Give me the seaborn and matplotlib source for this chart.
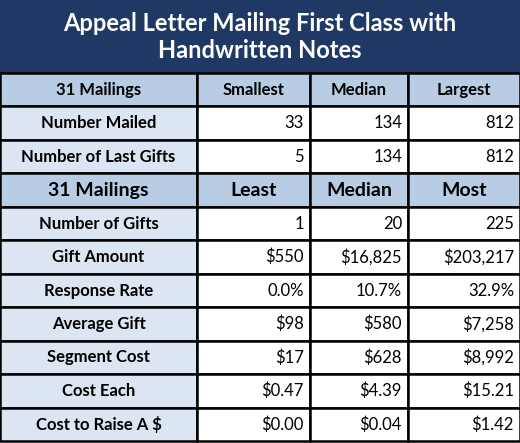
import matplotlib
matplotlib.use("Agg")
import matplotlib.pyplot as plt
import seaborn as sns
from matplotlib.patches import Rectangle

sns.set_style("white")
plt.rcParams['font.family'] = ['Lato', 'DejaVu Sans']

title = "Appeal Letter Mailing First Class with\nHandwritten Notes"
header1 = ["31 Mailings", "Smallest", "Median", "Largest"]
rows1_labels = ["Number Mailed", "Number of Last Gifts"]
rows1_values = [["33", "134", "812"], ["5", "134", "812"]]
header2 = ["31 Mailings", "Least", "Median", "Most"]
rows2_labels = ["Number of Gifts", "Gift Amount", "Response Rate", "Average Gift",
                "Segment Cost", "Cost Each", "Cost to Raise A $"]
rows2_values = [["1", "20", "225"], ["$550", "$16,825", "$203,217"],
                ["0.0%", "10.7%", "32.9%"], ["$98", "$580", "$7,258"],
                ["$17", "$628", "$8,992"], ["$0.47", "$4.39", "$15.21"],
                ["$0.00", "$0.04", "$1.42"]]

W, H = 520, 443
fig = plt.figure(figsize=(W/100, H/100), dpi=100)
ax = fig.add_axes([0, 0, 1, 1])
ax.set_xlim(0, W); ax.set_ylim(H, 0); ax.axis("off")

cols = [0, 197, 310, 408, 520]
navy, hdr, lab = "#1F3864", "#B8CCE4", "#DCE6F2"

ax.add_patch(Rectangle((0, 0), W, 73, color=navy))
ax.text(W/2, 37, title, color="white", ha="center", va="center",
        fontsize=17, fontweight="bold", linespacing=1.2)

rows = []
rows.append(("h", header1, 12))
for l, v in zip(rows1_labels, rows1_values):
    rows.append(("d", [l] + v, 12))
rows.append(("h", header2, 14))
for l, v in zip(rows2_labels, rows2_values):
    rows.append(("d", [l] + v, 12))

y_edges = [73, 106, 140, 173, 207]
step = (H - 2 - 207) / 7
for i in range(1, 8):
    y_edges.append(207 + step * i)

for r, (kind, cells, fs) in enumerate(rows):
    y0, y1 = y_edges[r], y_edges[r+1]
    ym = (y0 + y1) / 2
    for c in range(4):
        x0, x1 = cols[c], cols[c+1]
        if kind == "h":
            fc = hdr
        else:
            fc = lab if c == 0 else "white"
        ax.add_patch(Rectangle((x0, y0), x1 - x0, y1 - y0, facecolor=fc,
                               edgecolor="black", linewidth=1.8))
        if kind == "h" or c == 0:
            ax.text((x0 + x1) / 2, ym, cells[c], ha="center", va="center",
                    fontsize=fs, fontweight="bold", color="black")
        else:
            ax.text(x1 - 6, ym, cells[c], ha="right", va="center",
                    fontsize=fs, color="black")

fig.savefig("out.png", dpi=100)
